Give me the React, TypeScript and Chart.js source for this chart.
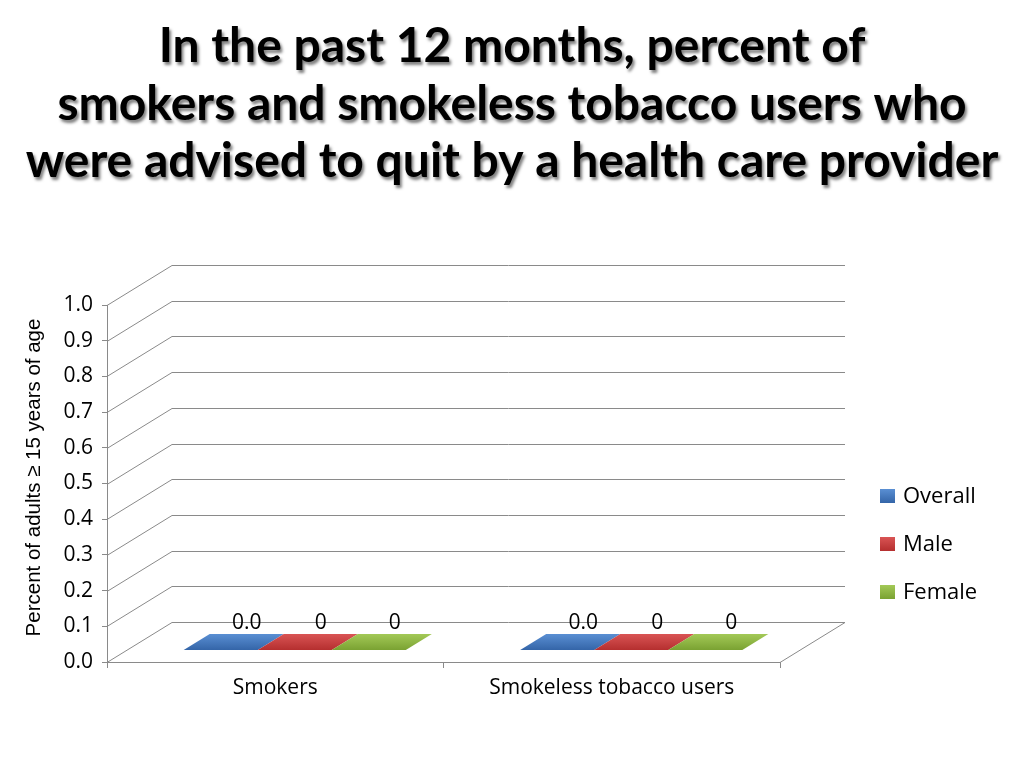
import React, { useEffect, useRef } from "react";
import { Chart, registerables } from "chart.js";

Chart.register(...registerables);

const titleLines = [
  "In the past 12 months, percent of",
  "smokers and smokeless tobacco users who",
  "were advised to quit by a health care provider",
];
const yAxisTitle = "Percent of adults \u2265 15 years of age";
const categories = ["Smokers", "Smokeless tobacco users"];
const seriesNames = ["Overall", "Male", "Female"];
const overallValues = [0, 0];
const maleValues = [0, 0];
const femaleValues = [0, 0];
const overallLabels = ["0.0", "0.0"];
const maleLabels = ["0", "0"];
const femaleLabels = ["0", "0"];
const yTickMin = 0;
const yTickMax = 1;
const yTickStep = 0.1;

const DX = 65;
const DY = 40;
const D0 = 0.3;
const D1 = 0.7;
const GRID = "#8a8a8a";
const palettes = [
  ["#5a8fd3", "#3465a8"],
  ["#d95454", "#b52f2f"],
  ["#a3c957", "#7aa232"],
];
const labelSets = [overallLabels, maleLabels, femaleLabels];

function grad(ctx: CanvasRenderingContext2D, y1: number, y2: number, c: string[]) {
  const g = ctx.createLinearGradient(0, y1, 0, y2);
  g.addColorStop(0, c[0]);
  g.addColorStop(1, c[1]);
  return g;
}

const depthPlugin = {
  id: "depth3d",
  beforeDatasetsDraw(chart: any) {
    const ctx = chart.ctx as CanvasRenderingContext2D;
    const { left, right, bottom } = chart.chartArea;
    const ys = chart.scales.y;
    ctx.save();
    ctx.strokeStyle = GRID;
    ctx.lineWidth = 1;
    ys.ticks.forEach((t: any) => {
      const y = Math.round(ys.getPixelForValue(t.value)) + 0.5;
      ctx.beginPath();
      ctx.moveTo(left, y);
      ctx.lineTo(left + DX, y - DY);
      ctx.lineTo(right + DX, y - DY);
      ctx.stroke();
    });
    ctx.beginPath();
    ctx.moveTo(right, Math.round(bottom) + 0.5);
    ctx.lineTo(right + DX, Math.round(bottom) + 0.5 - DY);
    ctx.stroke();
    ctx.restore();
  },
  afterDatasetsDraw(chart: any) {
    const ctx = chart.ctx as CanvasRenderingContext2D;
    const ys = chart.scales.y;
    const y0 = ys.getPixelForValue(0);
    ctx.save();
    chart.data.datasets.forEach((ds: any, di: number) => {
      const meta = chart.getDatasetMeta(di);
      meta.data.forEach((el: any, i: number) => {
        const v = ds.data[i];
        const yv = ys.getPixelForValue(v);
        const xl = el.x - el.width / 2;
        const xr = el.x + el.width / 2;
        const c = palettes[di];
        if (y0 - yv > 0.5) {
          ctx.fillStyle = grad(ctx, yv, y0, c);
          ctx.fillRect(xl + D0 * DX, yv - D0 * DY, xr - xl, y0 - yv);
          ctx.beginPath();
          ctx.moveTo(xr + D0 * DX, yv - D0 * DY);
          ctx.lineTo(xr + D1 * DX, yv - D1 * DY);
          ctx.lineTo(xr + D1 * DX, y0 - D1 * DY);
          ctx.lineTo(xr + D0 * DX, y0 - D0 * DY);
          ctx.closePath();
          ctx.fill();
        }
        ctx.fillStyle = grad(ctx, yv - D1 * DY, yv - D0 * DY, c);
        ctx.beginPath();
        ctx.moveTo(xl + D0 * DX, yv - D0 * DY);
        ctx.lineTo(xr + D0 * DX, yv - D0 * DY);
        ctx.lineTo(xr + D1 * DX, yv - D1 * DY);
        ctx.lineTo(xl + D1 * DX, yv - D1 * DY);
        ctx.closePath();
        ctx.fill();
      });
    });
    ctx.fillStyle = "#000";
    ctx.font = "21px 'Open Sans'";
    ctx.textAlign = "center";
    ctx.textBaseline = "alphabetic";
    chart.data.datasets.forEach((ds: any, di: number) => {
      const meta = chart.getDatasetMeta(di);
      meta.data.forEach((el: any, i: number) => {
        const yv = ys.getPixelForValue(ds.data[i]);
        ctx.fillText(labelSets[di][i], el.x + D1 * DX, yv - D1 * DY - 5);
      });
    });
    ctx.restore();
  },
  afterDraw(chart: any) {
    const ctx = chart.ctx as CanvasRenderingContext2D;
    const { top, bottom } = chart.chartArea;
    ctx.save();
    ctx.font = "bold 48px Lato";
    ctx.textAlign = "center";
    ctx.textBaseline = "alphabetic";
    ctx.shadowColor = "rgba(0,0,0,0.5)";
    ctx.shadowOffsetX = 2;
    ctx.shadowOffsetY = 3;
    ctx.shadowBlur = 3;
    ctx.fillStyle = "#000";
    titleLines.forEach((line, i) => {
      ctx.fillText(line, 512, 62 + i * 57.5);
    });
    ctx.restore();

    ctx.save();
    ctx.font = "20.5px 'Liberation Sans'";
    ctx.fillStyle = "#000";
    ctx.textAlign = "center";
    ctx.textBaseline = "middle";
    ctx.translate(34, (top + bottom) / 2 - 6);
    ctx.rotate(-Math.PI / 2);
    ctx.fillText(yAxisTitle, 0, 0);
    ctx.restore();

    ctx.save();
    ctx.font = "22px 'Open Sans'";
    ctx.textAlign = "left";
    ctx.textBaseline = "middle";
    seriesNames.forEach((name, i) => {
      const cy = 496 + i * 48;
      ctx.fillStyle = grad(ctx, cy - 7, cy + 7, palettes[i]);
      ctx.fillRect(880, cy - 7, 15, 14);
      ctx.fillStyle = "#000";
      ctx.fillText(name, 903, cy + 1);
    });
    ctx.restore();
  },
};

export default function App() {
  const ref = useRef<HTMLCanvasElement | null>(null);
  useEffect(() => {
    document.body.style.margin = "0";
    const canvas = ref.current;
    if (!canvas) return;
    const chart = new Chart(canvas, {
      type: "bar",
      data: {
        labels: categories,
        datasets: [
          { label: seriesNames[0], data: overallValues, backgroundColor: "rgba(0,0,0,0)", borderWidth: 0 },
          { label: seriesNames[1], data: maleValues, backgroundColor: "rgba(0,0,0,0)", borderWidth: 0 },
          { label: seriesNames[2], data: femaleValues, backgroundColor: "rgba(0,0,0,0)", borderWidth: 0 },
        ],
      },
      options: {
        responsive: false,
        animation: false,
        layout: { padding: { top: 305, right: 244, bottom: 56, left: 0 } },
        datasets: { bar: { categoryPercentage: 0.66, barPercentage: 1 } },
        plugins: { legend: { display: false }, title: { display: false }, tooltip: { enabled: false } },
        scales: {
          x: {
            grid: { offset: true, drawOnChartArea: false, drawTicks: true, tickLength: 6, color: GRID },
            border: { display: true, color: GRID },
            ticks: { color: "#000", font: { family: "'Open Sans'", size: 21 }, padding: 7 },
            afterFit: (s: any) => { s.height = 50; },
          },
          y: {
            min: yTickMin,
            max: yTickMax,
            grid: { drawOnChartArea: false, drawTicks: true, tickLength: 5, color: GRID },
            border: { display: true, color: GRID },
            ticks: {
              stepSize: yTickStep,
              color: "#000",
              font: { family: "'Open Sans'", size: 21 },
              padding: 9,
              callback: (v: any) => Number(v).toFixed(1),
            },
            afterFit: (s: any) => { s.width = 107; },
          },
        },
      },
      plugins: [depthPlugin],
    });
    return () => chart.destroy();
  }, []);
  return <canvas ref={ref} width={1024} height={768} style={{ display: "block" }} />;
}
